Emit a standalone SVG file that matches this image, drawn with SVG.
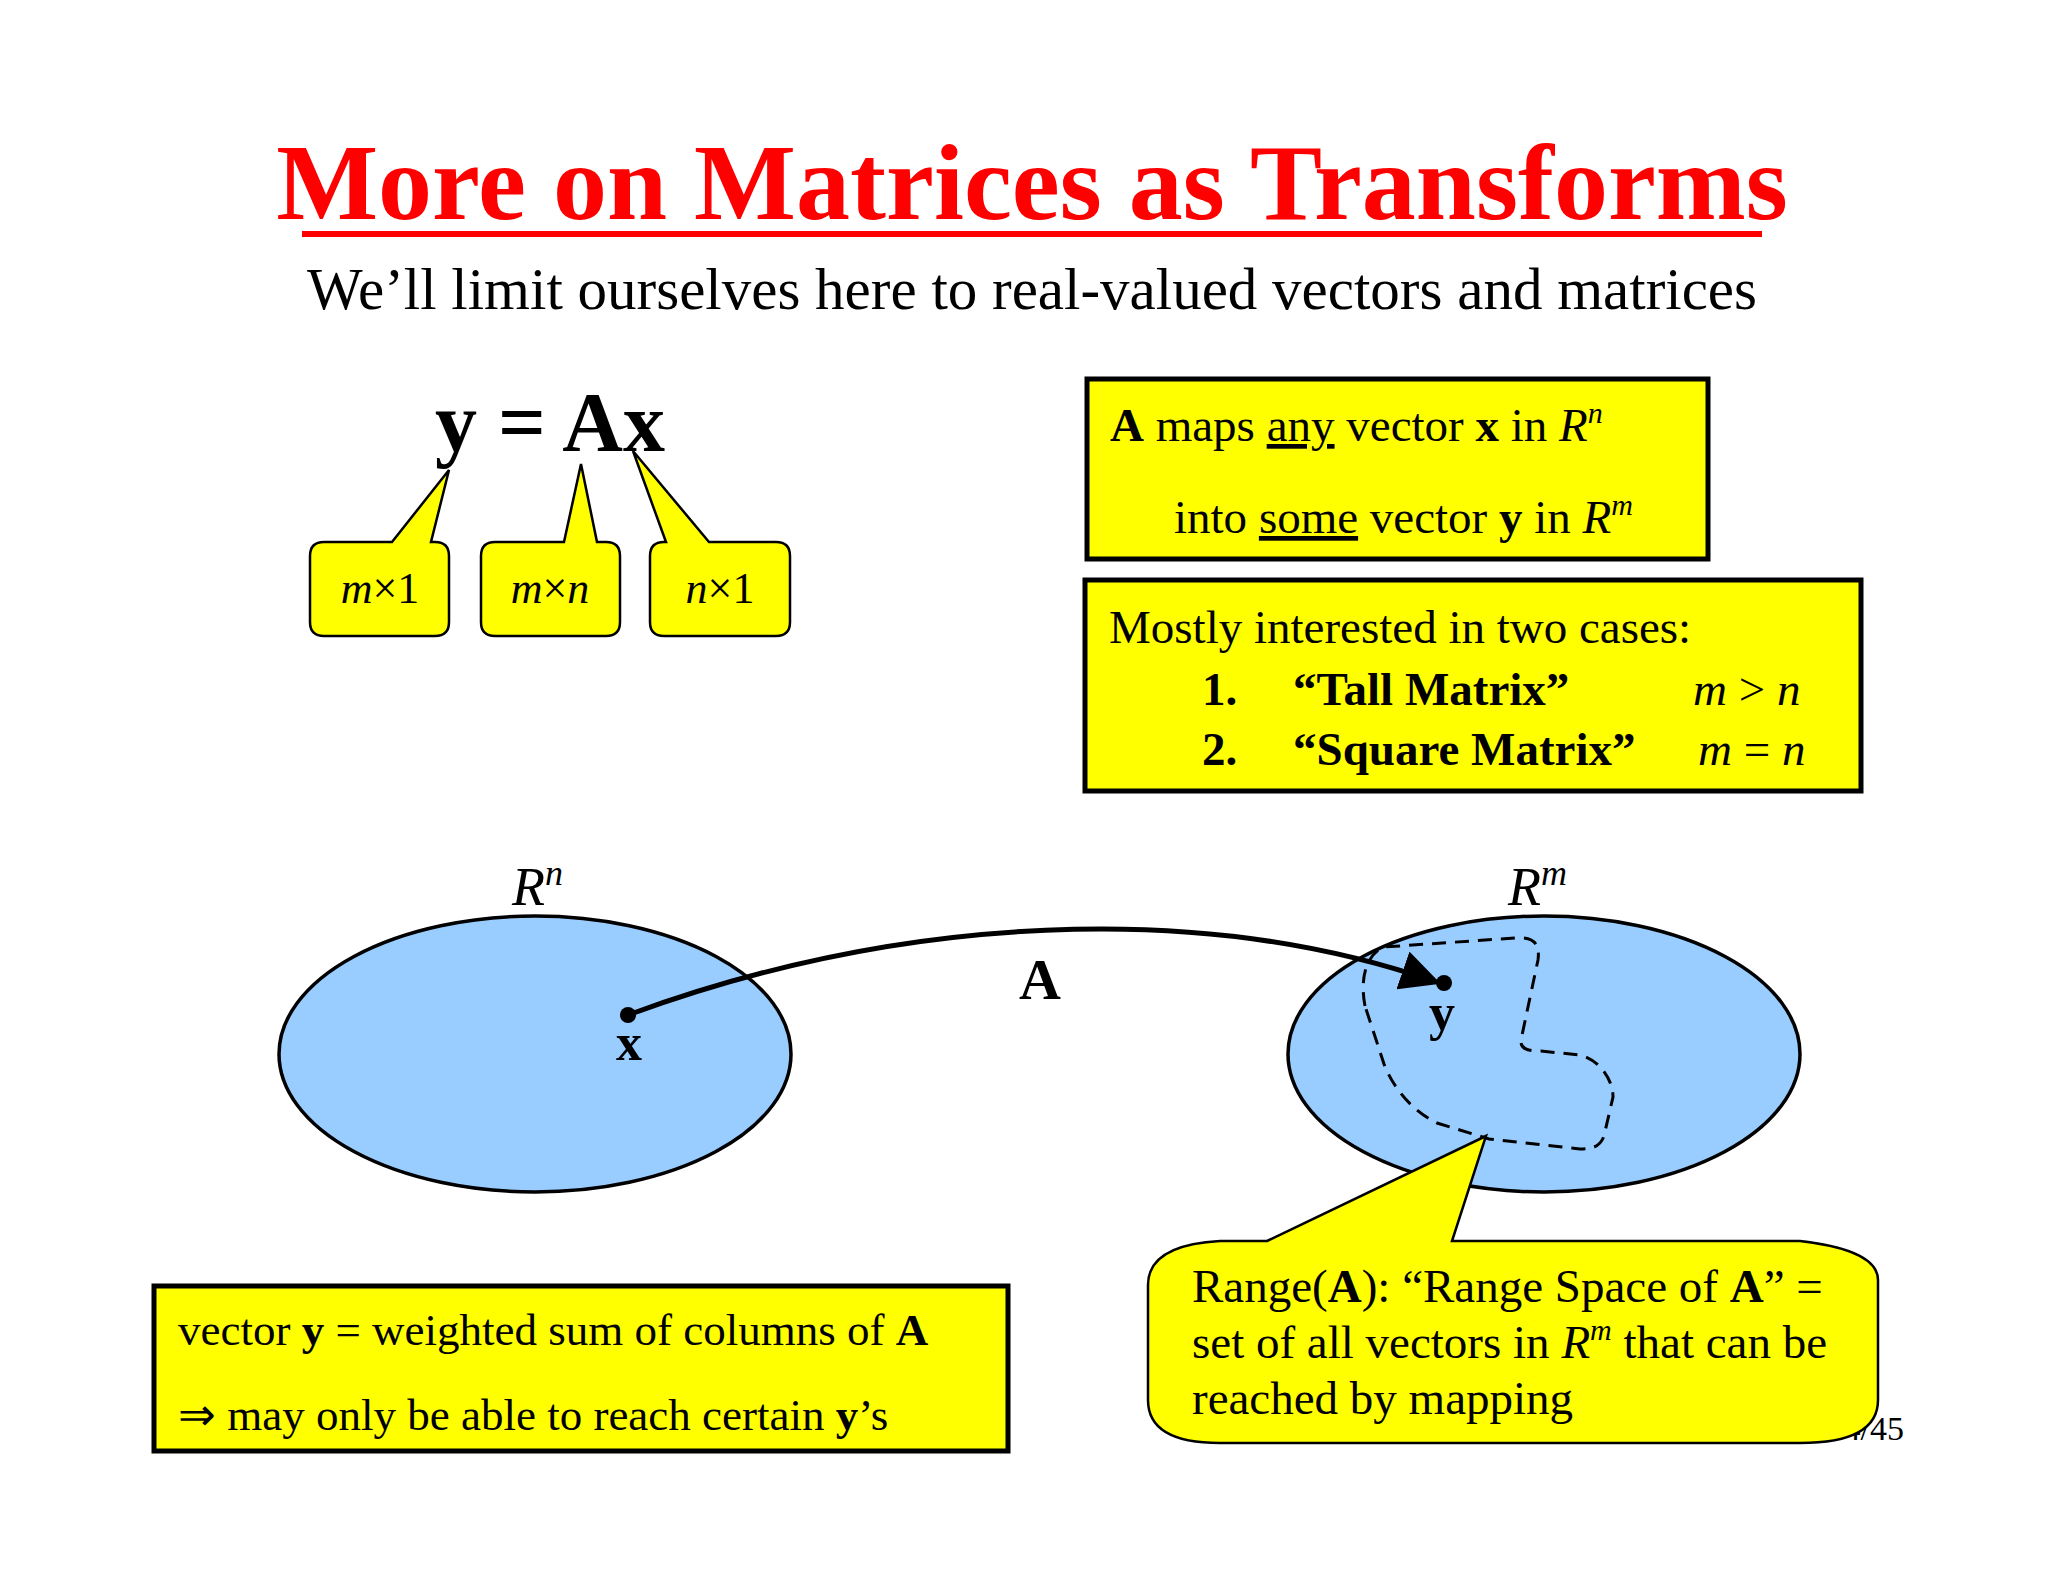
<svg xmlns="http://www.w3.org/2000/svg" width="2048" height="1582" viewBox="0 0 2048 1582">
<defs>
<style>
text{font-family:"Liberation Serif","Times New Roman",serif;fill:#000}
.box{fill:#ffff00;stroke:#000;stroke-width:5}
.call{fill:#ffff00;stroke:#000;stroke-width:2.5}
.ell{fill:#99ccff;stroke:#000;stroke-width:3.5}
.b{font-weight:bold}
.i{font-style:italic}
.t47{font-size:47px}
</style>
<marker id="arr" markerWidth="8" markerHeight="8" refX="7" refY="4" orient="auto" markerUnits="strokeWidth"><path d="M0,0 L8,4 L0,8 Z" fill="#000"/></marker>
</defs>
<rect width="2048" height="1582" fill="#fff"/>
<g id="title">
<text x="1032" y="219" text-anchor="middle" font-size="108" font-weight="bold" fill="#ff0000" style="fill:#ff0000">More on Matrices as Transforms</text>
<rect x="302" y="231" width="1460" height="6" fill="#ff0000"/>
<text x="1032" y="309" text-anchor="middle" font-size="59">We’ll limit ourselves here to real-valued vectors and matrices</text>
</g>
<g id="equation"><text x="435" y="451" font-size="84" class="b">y = Ax</text></g>
<g id="callout1"><path class="call" d="M392,542 L449,470 L431,542 L435,542 Q449,542 449,556 L449,622 Q449,636 435,636 L324,636 Q310,636 310,622 L310,556 Q310,542 324,542 Z"/><text x="380" y="603" text-anchor="middle" font-size="44" class="i">m<tspan font-style="normal">×1</tspan></text></g>
<g id="callout2"><path class="call" d="M564,542 L581,464 L597,542 L606,542 Q620,542 620,556 L620,622 Q620,636 606,636 L495,636 Q481,636 481,622 L481,556 Q481,542 495,542 Z"/><text x="550" y="603" text-anchor="middle" font-size="44" class="i">m<tspan font-style="normal">×</tspan>n</text></g>
<g id="callout3"><path class="call" d="M666,542 L633,451 L709,542 L776,542 Q790,542 790,556 L790,622 Q790,636 776,636 L664,636 Q650,636 650,622 L650,556 Q650,542 664,542 Z"/><text x="720" y="603" text-anchor="middle" font-size="44" class="i">n<tspan font-style="normal">×1</tspan></text></g>
<g id="maps-box"><rect class="box" x="1087" y="379" width="621" height="180"/>
<text x="1110" y="441" class="t47"><tspan class="b">A</tspan> maps <tspan text-decoration="underline">any</tspan> vector <tspan class="b">x</tspan> in <tspan class="i">R</tspan><tspan class="i" font-size="30" dy="-18">n</tspan></text>
<text x="1174" y="533" class="t47">into <tspan text-decoration="underline">some</tspan> vector <tspan class="b">y</tspan> in <tspan class="i">R</tspan><tspan class="i" font-size="30" dy="-18">m</tspan></text></g>
<g id="cases-box"><rect class="box" x="1085" y="580" width="776" height="211"/>
<text x="1109" y="643" class="t47">Mostly interested in two cases:</text>
<text x="1202" y="705" class="t47 b">1.</text><text x="1293" y="705" class="t47 b">“Tall Matrix”</text><text x="1693" y="705" class="t47 i">m <tspan font-style="normal">&gt;</tspan> n</text>
<text x="1202" y="765" class="t47 b">2.</text><text x="1293" y="765" class="t47 b">“Square Matrix”</text><text x="1698" y="765" class="t47 i">m <tspan font-style="normal">=</tspan> n</text></g>
<g id="Rn"><ellipse class="ell" cx="535" cy="1054" rx="256" ry="138"/><text x="512" y="905" font-size="54" class="i">R<tspan font-size="36" dy="-20">n</tspan></text>
<circle cx="628" cy="1015" r="8"/><text x="616" y="1060" font-size="52" class="b">x</text></g>
<g id="page"><text x="1904" y="1440" text-anchor="end" font-size="34">34/45</text></g>
<g id="Rm"><ellipse class="ell" cx="1544" cy="1054" rx="256" ry="138"/><text x="1508" y="905" font-size="54" class="i">R<tspan font-size="36" dy="-20">m</tspan></text>
<path d="M1365,1006 C1360,980 1365,955 1384,947 L1515,938 C1535,936 1540,945 1538,960 L1521,1040 C1520,1050 1530,1051 1541,1051 L1580,1055 C1600,1060 1613,1080 1613,1097 L1604,1136 C1600,1147 1592,1149 1580,1149 L1489,1139 L1437,1123 C1410,1110 1392,1085 1384,1064 Z" fill="none" stroke="#000" stroke-width="3" stroke-dasharray="14,9"/>
<circle cx="1444" cy="983" r="8"/><text x="1429" y="1030" font-size="52" class="b">y</text></g>
<g id="connectors"><path d="M628,1015 C900,915 1200,900 1436,982" fill="none" stroke="#000" stroke-width="5" marker-end="url(#arr)"/>
<text x="1019" y="999" font-size="58" class="b">A</text></g>
<g id="range-callout"><path class="call" d="M1267,1241 L1486,1136 L1452,1241 L1800,1241 Q1878,1250 1878,1280 L1878,1400 Q1878,1443 1800,1443 L1220,1443 Q1148,1443 1148,1400 L1148,1285 Q1148,1245 1220,1241 Z"/>
<text x="1192" y="1302" class="t47">Range(<tspan class="b">A</tspan>): “Range Space of <tspan class="b">A</tspan>” =</text>
<text x="1192" y="1358" class="t47">set of all vectors in <tspan class="i">R</tspan><tspan class="i" font-size="30" dy="-18">m</tspan><tspan dy="18"> that can be</tspan></text>
<text x="1192" y="1414" class="t47">reached by mapping</text></g>
<g id="sum-box"><rect class="box" x="154" y="1286" width="854" height="165"/>
<text x="178" y="1345" font-size="45">vector <tspan class="b">y</tspan> = weighted sum of columns of <tspan class="b">A</tspan></text>
<text x="178" y="1430" font-size="45">⇒ may only be able to reach certain <tspan class="b">y</tspan>’s</text></g>
</svg>
